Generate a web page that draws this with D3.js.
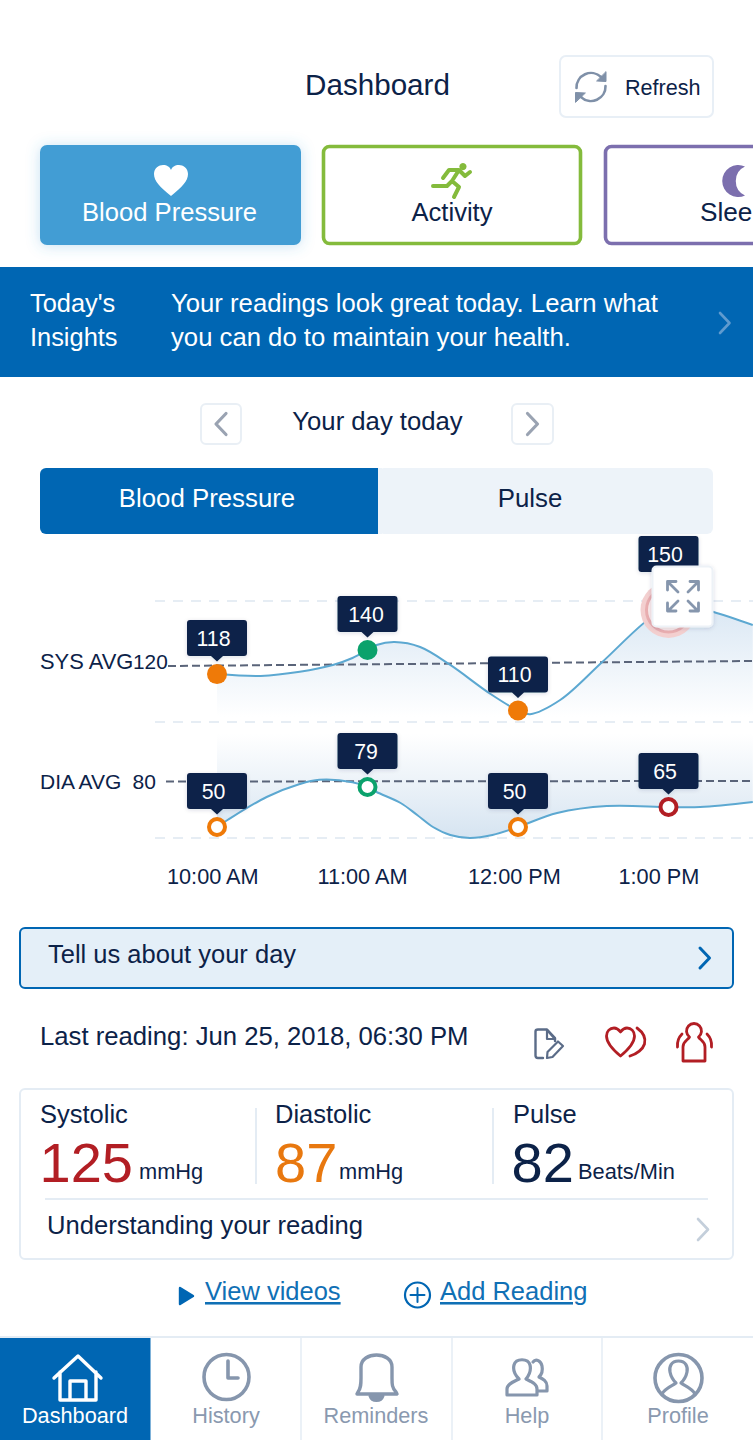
<!DOCTYPE html>
<html>
<head>
<meta charset="utf-8">
<style>
html,body{margin:0;padding:0;background:#fff;overflow:hidden}
svg{display:block}
text{font-family:"Liberation Sans",Arial,sans-serif}
</style>
<script src="https://cdnjs.cloudflare.com/ajax/libs/d3/7.8.5/d3.min.js"></script>
</head>
<body>
<script>
// ---- chart data ----
const hours = [10, 11, 12, 13];
const tickLabels = ["10:00 AM", "11:00 AM", "12:00 PM", "1:00 PM"];
const sysValues = [118, 140, 110, 150];
const diaValues = [50, 79, 50, 65];
const sysStatus = ["orange", "green", "orange", "red"];
const diaStatus = ["orange", "green", "orange", "red"];
const sysAvg = 120;
const diaAvg = 80;
// the smoothed traces
const sysTraceHours = [10, 10.29, 10.55, 10.77, 10.9, 11, 11.06, 11.18, 11.35, 11.55, 11.81, 12, 12.08, 12.28, 12.56, 12.88, 13, 13.17, 13.3, 13.56];
const sysTraceValues = [118, 117.6, 118.5, 120, 129.3, 140, 141.25, 142, 140.75, 120.1, 113.8, 110, 109.2, 112.3, 124, 148, 150, 150.75, 149.5, 146.25];
const diaTraceHours = [10, 10.07, 10.33, 10.55, 10.68, 10.9, 11, 11.06, 11.22, 11.33, 11.435, 11.55, 11.68, 11.83, 12, 12.26, 12.59, 13, 13.21, 13.56];
const diaTraceValues = [50, 55.25, 72, 79.5, 80.2, 79.8, 79, 75.5, 67.8, 59, 50, 44, 41.75, 44, 50, 60.5, 65.7, 65, 65, 68.5];
const sysBands = [152.25, 107.5];
const diaBands = [41.75];

const navLabels = ["Dashboard", "History", "Reminders", "Help", "Profile"];

// ---- palette ----
const navy = "#0c2248", blue = "#0066b3", grey = "#8696ad", rule = "#e4ecf4";
const statusColor = {orange: "#ef7a08", green: "#0ba26c", red: "#b21e24"};

const W = 753, H = 1440;
const svg = d3.select("body").append("svg").attr("width", W).attr("height", H).attr("viewBox", `0 0 ${W} ${H}`);
const defs = svg.append("defs");

function txt(s, x, y, size, fill, anchor) {
  return svg.append("text").attr("x", x).attr("y", y).attr("font-size", size)
    .attr("fill", fill || navy).attr("text-anchor", anchor || "start").text(s);
}
function box(x, y, w, h, r, fill, stroke, sw) {
  return svg.append("rect").attr("x", x).attr("y", y).attr("width", w).attr("height", h).attr("rx", r)
    .attr("fill", fill || "none").attr("stroke", stroke || "none").attr("stroke-width", sw || 0);
}
function icon(d, color, sw, fill) {
  return svg.append("path").attr("d", d).attr("fill", fill || "none").attr("stroke", color)
    .attr("stroke-width", sw).attr("stroke-linecap", "round").attr("stroke-linejoin", "round");
}

const glow = defs.append("filter").attr("id", "glow").attr("x", "-20%").attr("y", "-30%").attr("width", "140%").attr("height", "160%");
glow.append("feDropShadow").attr("dx", 0).attr("dy", 1).attr("stdDeviation", 7).attr("flood-color", "#429dd4").attr("flood-opacity", .3);
const soft = defs.append("filter").attr("id", "soft").attr("x", "-20%").attr("y", "-20%").attr("width", "140%").attr("height", "150%");
soft.append("feDropShadow").attr("dx", 0).attr("dy", 1).attr("stdDeviation", 2).attr("flood-color", "#0c2248").attr("flood-opacity", .15);

// ---- header ----
txt("Dashboard", 377.5, 95, 29.6, navy, "middle");
box(560, 56, 153, 61, 6, "#fff", "#e8eff6", 2);
icon("M576.5 88 A14.5 14.5 0 0 1 601 77", "#7f90a8", 2.6);
icon("M605.5 86 A14.5 14.5 0 0 1 581 97", "#7f90a8", 2.6);
icon("M606 72 L606 81.5 L597 81 Z", "#7f90a8", 1, "#7f90a8");
icon("M575.5 102 L575.5 92.5 L585 93 Z", "#7f90a8", 1, "#7f90a8");
txt("Refresh", 625, 95, 21.6);

// ---- category cards ----
box(40, 145, 261, 100, 7, "#429dd4").attr("filter", "url(#glow)");
icon("M171 196 C160 187 154 181 154 174 C154 168 159 165 163 165 C167 165 170 167 171 170 C172 167 175 165 179 165 C183 165 188 168 188 174 C188 181 182 187 171 196 Z", "#fff", 0, "#fff");
txt("Blood Pressure", 169.5, 221, 25.6, "#fff", "middle");
box(323.5, 146.5, 257, 97, 6, "#fff", "#84bb3c", 3.6);
icon("M463 163 A3.6 3.6 0 1 1 462.9 163 Z", "#84bb3c", 0, "#84bb3c");
icon("M470 172 L465 176 L459 170 L449 170 L443 178 M459 170 L452 181 L459 187 L454 197 M452 181 L447 186 L433 186", "#84bb3c", 4);
txt("Activity", 452, 221, 25.6, navy, "middle");
box(605.5, 146.5, 200, 97, 6, "#fff", "#7c6fae", 3.6);
icon("M745 166.5 A16 16 0 1 0 745 195.5 A16 16 0 0 1 745 166.5 Z", "#7c6fae", 0, "#7c6fae");
txt("Sleep", 700, 221, 26.2);

// ---- insights banner ----
svg.append("rect").attr("x", 0).attr("y", 267).attr("width", W).attr("height", 110).attr("fill", blue);
txt("Today's", 30, 312, 25.4, "#fff");
txt("Insights", 30, 346, 25.4, "#fff");
txt("Your readings look great today. Learn what", 171, 312, 25.7, "#fff");
txt("you can do to maintain your health.", 171, 346, 25.7, "#fff");
icon("M720 313 L729.5 323 L720 333", "#5f9bcf", 2.6);

// ---- day switcher ----
txt("Your day today", 377.5, 430, 25.7, navy, "middle");
box(201, 404, 40, 40, 5, "#fff", "#e9eff5", 2);
icon("M226 413.5 L216 424 L226 434.5", "#9aa3b2", 3.2);
box(512, 404, 41, 40, 5, "#fff", "#e9eff5", 2);
icon("M527.5 413.5 L537.5 424 L527.5 434.5", "#9aa3b2", 3.2);

// ---- segmented control ----
box(378, 468, 335, 66, 6, "#edf3f9");
svg.append("rect").attr("x", 372).attr("y", 468).attr("width", 10).attr("height", 66).attr("fill", "#edf3f9");
box(40, 468, 338, 66, 6, blue);
svg.append("rect").attr("x", 368).attr("y", 468).attr("width", 10).attr("height", 66).attr("fill", blue);
txt("Blood Pressure", 207, 507, 25.8, "#fff", "middle");
txt("Pulse", 530, 507, 25.8, navy, "middle");

// ---- chart scales ----
const x = d3.scaleLinear().domain([10, 13]).range([217, 668.5]);
// the app's value axis is not uniform: each stretch follows the picture
const ySys = d3.scaleLinear().domain([100, 120, 140, 150, 160]).range([756, 665, 650, 610, 570]);
const yDia = d3.scaleLinear().domain([40, 50, 65, 79, 80, 90]).range([840.3, 827, 807, 787, 781, 721]);
const plot = svg.append("g");
const bandBottom = ySys(sysBands[1]);

function gradient(id, y1, y2, c1, c2) {
  const g = defs.append("linearGradient").attr("id", id).attr("gradientUnits", "userSpaceOnUse")
    .attr("x1", 0).attr("x2", 0).attr("y1", y1).attr("y2", y2);
  g.append("stop").attr("offset", 0).attr("stop-color", c1);
  g.append("stop").attr("offset", 1).attr("stop-color", c2);
}
gradient("sysFill", ySys(150), bandBottom - 5, "#dbe8f4", "#ffffff");
gradient("diaFill", bandBottom + 12, yDia(41.75), "#ffffff", "#d6e4f1");

const curve = d3.curveCatmullRom.alpha(0.5);
const sysTrace = sysTraceHours.map((h, i) => [h, sysTraceValues[i]]);
const diaTrace = diaTraceHours.map((h, i) => [h, diaTraceValues[i]]);

// areas
plot.append("path").datum(sysTrace).attr("fill", "url(#sysFill)")
  .attr("d", d3.area().curve(curve).x(d => x(d[0])).y0(bandBottom).y1(d => ySys(d[1])));
plot.append("path").datum(diaTrace).attr("fill", "url(#diaFill)")
  .attr("d", d3.area().curve(curve).x(d => x(d[0])).y0(bandBottom).y1(d => yDia(d[1])));

// dashed bands
const bandYs = sysBands.map(v => ySys(v)).concat(diaBands.map(v => yDia(v)));
plot.selectAll("line.band").data(bandYs).join("line").attr("class", "band")
  .attr("x1", 155).attr("x2", W).attr("y1", d => d).attr("y2", d => d)
  .attr("stroke", "#e6edf4").attr("stroke-width", 2).attr("stroke-dasharray", "10 8");

// average lines
plot.append("line").attr("x1", 168).attr("x2", W).attr("y1", ySys(sysAvg) + 1).attr("y2", ySys(sysAvg) - 4)
  .attr("stroke", "#5a6479").attr("stroke-width", 2).attr("stroke-dasharray", "8 4");
plot.append("line").attr("x1", 166).attr("x2", W).attr("y1", yDia(diaAvg) + .5).attr("y2", yDia(diaAvg))
  .attr("stroke", "#5a6479").attr("stroke-width", 2).attr("stroke-dasharray", "8 4");

txt("SYS AVG", 40, 669, 21.9);
txt(String(sysAvg), 133, 669, 20.8);
txt("DIA AVG", 40, 789, 21);
txt(String(diaAvg), 132.5, 789, 21);

// traces
plot.append("path").datum(sysTrace).attr("fill", "none").attr("stroke", "#5ca8d1").attr("stroke-width", 2)
  .attr("d", d3.line().curve(curve).x(d => x(d[0])).y(d => ySys(d[1])));
plot.append("path").datum(diaTrace).attr("fill", "none").attr("stroke", "#5ca8d1").attr("stroke-width", 2)
  .attr("d", d3.line().curve(curve).x(d => x(d[0])).y(d => yDia(d[1])));

// highlight halo on the out-of-range reading
const hi = sysValues.indexOf(d3.max(sysValues));
const halo = plot.append("g").attr("transform", `translate(${x(hours[hi])},${ySys(sysValues[hi])})`);
halo.append("circle").attr("r", 28).attr("fill", "#f3cfcf");
halo.append("circle").attr("r", 22).attr("fill", "#fbeaea").attr("stroke", "#e9aeb0").attr("stroke-width", 3);
halo.append("circle").attr("r", 11).attr("fill", statusColor.red).attr("opacity", .55);

// systolic points (filled)
plot.selectAll("circle.sys").data(sysValues).join("circle").attr("class", "sys")
  .attr("cx", (d, i) => x(hours[i])).attr("cy", d => ySys(d)).attr("r", 10)
  .attr("fill", (d, i) => i === hi ? "none" : statusColor[sysStatus[i]]);
// diastolic points (rings)
plot.selectAll("circle.dia").data(diaValues).join("circle").attr("class", "dia")
  .attr("cx", (d, i) => x(hours[i])).attr("cy", d => yDia(d)).attr("r", 8)
  .attr("fill", "#fff").attr("stroke", (d, i) => statusColor[diaStatus[i]]).attr("stroke-width", 4);

// tooltips
function tips(values, y, cls, lift) {
  const g = plot.selectAll("g." + cls).data(values).join("g").attr("class", cls)
    .attr("transform", (d, i) => `translate(${x(hours[i])},${y(d) - lift(i)})`);
  g.append("path").attr("d", "M-30 -33 Q-30 -36 -27 -36 L27 -36 Q30 -36 30 -33 L30 -3 Q30 0 27 0 L6 0 L0 5.5 L-6 0 L-27 0 Q-30 0 -30 -3 Z")
    .attr("fill", navy).attr("filter", "url(#soft)");
  g.append("text").attr("x", (d, i) => i === 1 ? -1.5 : -3.5).attr("y", -10.5).attr("text-anchor", "middle").attr("font-size", 21.3)
    .attr("fill", "#fff").text(d => d);
}
tips(sysValues, ySys, "tipS", i => i === hi ? 38 : 18);
tips(diaValues, yDia, "tipD", () => 18);

// x axis
const axis = d3.axisBottom(x).tickValues(hours).tickSize(0).tickPadding(0)
  .tickFormat((d, i) => tickLabels[i]);
const ax = plot.append("g").attr("transform", "translate(0,868)").call(axis);
ax.select(".domain").remove();
ax.selectAll("text").attr("x", -50.5).attr("y", 0).attr("dy", 16).attr("text-anchor", "start")
  .attr("font-size", 21.7).attr("font-family", '"Liberation Sans",Arial,sans-serif').attr("fill", navy);

// expand button
box(652.5, 566.5, 60, 60, 4, "#fff", "#edf2f7", 2).attr("filter", "url(#soft)");
icon("M667.5 590 L667.5 581.5 L676 581.5 M668 582 L678 592", grey, 2.8);
icon("M698.5 590 L698.5 581.5 L690 581.5 M698 582 L688 592", grey, 2.8);
icon("M667.5 603 L667.5 611 L676 611 M668 611 L678 601", grey, 2.8);
icon("M698.5 603 L698.5 611 L690 611 M698 611 L688 601", grey, 2.8);

// ---- tell us ----
box(20, 928, 713, 60, 5, "#e4eff8", blue, 2);
txt("Tell us about your day", 48, 963, 25.5);
icon("M700 948 L709.5 958 L700 968", blue, 3);

// ---- last reading ----
txt("Last reading: Jun 25, 2018, 06:30 PM", 40, 1045, 25.7);
icon("M543 1058 L538 1058 Q535.5 1058 535.5 1055.5 L535.5 1031.5 Q535.5 1029.5 538 1029.5 L547 1029.5 L555 1038 L555 1041", "#5b6c88", 2.4);
icon("M547 1030 L547 1039 L555 1039 Z", "#5b6c88", 2.2);
icon("M547 1058 L547.5 1052 L558 1041.5 L563 1046 L552.5 1057 Z", "#5b6c88", 2.2);
icon("M620.5 1056 C612 1049 606.5 1043 606.5 1036 C606.5 1031 610 1028 614 1028 C617 1028 619 1030 620.5 1032 C622 1030 624 1028 627 1028 C631 1028 634.5 1031 634.5 1036 C634.5 1043 629 1049 620.5 1056 Z", "#b21e24", 2.8);
icon("M637 1028 C644 1033 646 1038 644.5 1044 C643 1049 637 1054 630 1056", "#b21e24", 2.8);
icon("M683 1061 L683 1047 C683 1041 688 1040 689.5 1037 A7.5 7.5 0 1 1 698.5 1037 C700 1040 705 1041 705 1047 L705 1061 Z", "#b21e24", 2.8);
icon("M682 1034 C678 1038 677 1042 677.5 1047 M707 1034 C711 1038 712 1042 711.5 1047", "#b21e24", 2.8);

// ---- reading card ----
box(20, 1089, 713, 170, 5, "#fff", rule, 2);
[256, 493].forEach(v => svg.append("line").attr("x1", v).attr("x2", v).attr("y1", 1108).attr("y2", 1184).attr("stroke", rule).attr("stroke-width", 2));
svg.append("line").attr("x1", 45).attr("x2", 708).attr("y1", 1199).attr("y2", 1199).attr("stroke", rule).attr("stroke-width", 2);
txt("Systolic", 40, 1123, 25.5);
txt("125", 39.5, 1181.5, 56, "#b21e24");
txt("mmHg", 139, 1179, 21.8);
txt("Diastolic", 275, 1123, 25.5);
txt("87", 275, 1181.5, 56, "#e8780f");
txt("mmHg", 339, 1179, 21.8);
txt("Pulse", 513, 1123, 25.5);
txt("82", 511.5, 1181.5, 56);
txt("Beats/Min", 578, 1179, 21.8);
txt("Understanding your reading", 47, 1234, 25.6);
icon("M698 1219 L708 1229.5 L698 1240", "#c4cfdb", 2.6);

// ---- links ----
icon("M180 1288 L193 1296 L180 1304 Z", blue, 2.4, blue);
txt("View videos", 205, 1300, 25.5, "#1070b5").attr("text-decoration", "underline");
svg.append("circle").attr("cx", 417.5).attr("cy", 1295).attr("r", 12.5).attr("fill", "none").attr("stroke", blue).attr("stroke-width", 2.2);
icon("M410.5 1295 L424.5 1295 M417.5 1288 L417.5 1302", blue, 2);
txt("Add Reading", 440, 1300, 25.5, "#1070b5").attr("text-decoration", "underline");

// ---- bottom nav ----
svg.append("line").attr("x1", 0).attr("x2", W).attr("y1", 1337).attr("y2", 1337).attr("stroke", rule).attr("stroke-width", 2);
svg.append("rect").attr("x", 0).attr("y", 1338).attr("width", 150.5).attr("height", 102).attr("fill", blue);
[301, 452, 602].forEach(v => svg.append("line").attr("x1", v).attr("x2", v).attr("y1", 1338).attr("y2", H).attr("stroke", rule).attr("stroke-width", 1.5));
[75, 226, 376, 527, 678].forEach((cx, i) => txt(navLabels[i], cx, 1423, 21.7, i ? "#8a99af" : "#fff", "middle"));
icon("M54 1378 L78 1356 L101 1378 M60 1372 L60 1400 L96 1400 L96 1372 M70 1400 L70 1381 L86 1381 L86 1400", "#fff", 3.4);
svg.append("circle").attr("cx", 226.5).attr("cy", 1377).attr("r", 22.5).attr("fill", "none").attr("stroke", grey).attr("stroke-width", 3.6);
icon("M228 1361 L228 1378 L238 1378", grey, 3.6);
icon("M357 1394 L358 1392 C361 1388 361 1384 361 1378 L361 1367 C361 1351 392 1351 392 1367 L392 1378 C392 1384 392 1388 396 1392 L397 1394 Z", grey, 3.4);
icon("M370 1396 C372 1402 381 1402 383 1396 Z", grey, 3, grey);
icon("M507 1395 L507 1389 C507 1384 513 1382 519 1379 C514 1374 513 1369 514 1365 C516 1358 528 1358 530 1365 C531 1369 530 1374 526 1379 C532 1382 537 1384 537 1389 L537 1395 Z", grey, 3.2);
icon("M533 1362 C536 1358 541 1361 542 1366 C543 1371 541 1375 539 1377 C543 1379 547 1381 547 1386 L547 1391 L538 1391", grey, 3.2);
svg.append("circle").attr("cx", 678.5).attr("cy", 1378).attr("r", 23.5).attr("fill", "none").attr("stroke", grey).attr("stroke-width", 3.6);
icon("M678.5 1361 C671 1361 669 1367 670 1372 C671 1377 674 1381 676 1383 C672 1386 665 1388 662 1394 M678.5 1361 C686 1361 688 1367 687 1372 C686 1377 683 1381 681 1383 C685 1386 692 1388 695 1394", grey, 3.2);
</script>
</body>
</html>
